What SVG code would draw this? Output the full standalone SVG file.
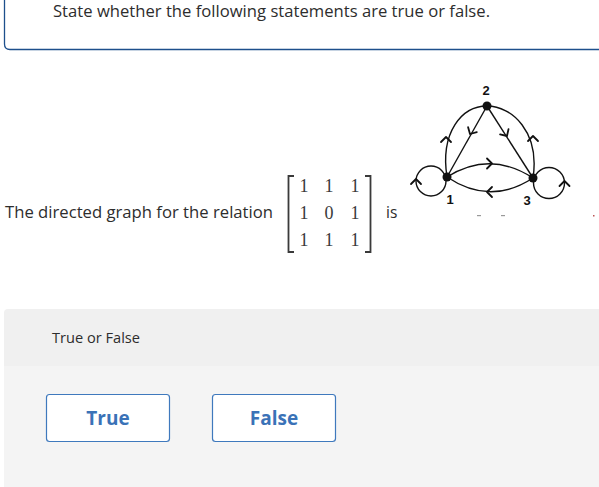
<svg xmlns="http://www.w3.org/2000/svg" width="599" height="487" viewBox="0 0 599 487">
<style>
.t{font-family:"Open Sans","Liberation Sans",sans-serif;fill:#2d2d2d}
.m{font-family:"Liberation Serif",serif;font-size:18px;fill:#3a3a3a;text-anchor:middle}
.br{fill:none;stroke:#3a3a3a;stroke-width:1.8}
.e{fill:none;stroke:#111;stroke-width:1.4}
.ch{fill:none;stroke:#111;stroke-width:1.8;stroke-linecap:round;stroke-linejoin:round}
.nd{fill:#111}
.lb{font-family:"Liberation Sans",sans-serif;font-size:13px;font-weight:bold;fill:#111;text-anchor:middle}
.btn{fill:#fff;stroke:#3f79bd;stroke-width:1.2}
.bt{font-family:"Open Sans","Liberation Sans",sans-serif;font-size:19px;font-weight:bold;fill:#3a72b7;text-anchor:middle}
</style>
<defs><path id="chev" d="M-5,5 L0,0 L5,5"/></defs>
<rect width="599" height="487" fill="#fff"/>
<g id="question-box">
<path d="M4.5,-5 V44 Q4.5,49.5 10,49.5 H605" fill="none" stroke="#1d4f8c" stroke-width="1.3"/>
<text class="t" x="53" y="17" font-size="15.5" textLength="437" lengthAdjust="spacingAndGlyphs">State whether the following statements are true or false.</text>
</g>
<g id="statement">
<text class="t" x="5" y="218" font-size="15.5" textLength="268" lengthAdjust="spacingAndGlyphs">The directed graph for the relation</text>
<path class="br" d="M294,176 H288.5 V252 H294"/>
<path class="br" d="M365,176 H370.5 V252 H365"/>
<text class="m" x="304" y="192">1</text><text class="m" x="329" y="192">1</text><text class="m" x="355" y="192">1</text>
<text class="m" x="304" y="219">1</text><text class="m" x="329" y="219">0</text><text class="m" x="355" y="219">1</text>
<text class="m" x="304" y="246">1</text><text class="m" x="329" y="246">1</text><text class="m" x="355" y="246">1</text>
<text class="t" x="386" y="218" font-size="15.5">is</text>
<rect x="477" y="215" width="4" height="1.2" fill="#999"/>
<rect x="501" y="215" width="4" height="1.2" fill="#999"/>
<rect x="593" y="215" width="1.5" height="1.5" fill="#b55"/>
</g>
<g id="connectors">
<path class="e" d="M447,177 C440,132 462,106 487,106"/>
<path class="e" d="M533,178 C540,132 512,106 487,106"/>
<path class="e" d="M487,106 L447,177"/>
<path class="e" d="M487,106 L533,178"/>
<path class="e" d="M447,177 Q490,150 533,178"/>
<path class="e" d="M447,177 Q490,206 533,178"/>
<circle class="e" cx="431" cy="181" r="15"/>
<circle class="e" cx="549" cy="183" r="15.5"/>
<use href="#chev" class="ch" transform="translate(446,137)"/>
<use href="#chev" class="ch" transform="translate(533,136)"/>
<use href="#chev" class="ch" transform="translate(470,134) rotate(-150.6)"/>
<use href="#chev" class="ch" transform="translate(507,136) rotate(147.3)"/>
<use href="#chev" class="ch" transform="translate(492,163.5) rotate(90)"/>
<use href="#chev" class="ch" transform="translate(487,192) rotate(-90)"/>
<use href="#chev" class="ch" transform="translate(416,179)"/>
<use href="#chev" class="ch" transform="translate(564.5,181)"/>
</g>
<g id="node-1"><circle class="nd" cx="447" cy="177" r="4.5"/><text class="lb" x="450" y="204">1</text></g>
<g id="node-2"><circle class="nd" cx="487" cy="106" r="4.5"/><text class="lb" x="486" y="95">2</text></g>
<g id="node-3"><circle class="nd" cx="533" cy="178" r="4.5"/><text class="lb" x="527" y="205">3</text></g>
<g id="answer-panel">
<path d="M4,366 V313 Q4,309 8,309 H599 V366 Z" fill="#f0f0f0"/>
<path d="M4,366 H599 V487 H4 Z" fill="#f4f4f4"/>
<text class="t" x="52" y="343" font-size="14" textLength="88" lengthAdjust="spacingAndGlyphs">True or False</text>
</g>
<g id="btn-true"><rect class="btn" x="46.5" y="394.5" width="123" height="47" rx="3"/><text class="bt" x="108" y="425">True</text></g>
<g id="btn-false"><rect class="btn" x="212.5" y="394.5" width="123" height="47" rx="3"/><text class="bt" x="274" y="425">False</text></g>
</svg>
